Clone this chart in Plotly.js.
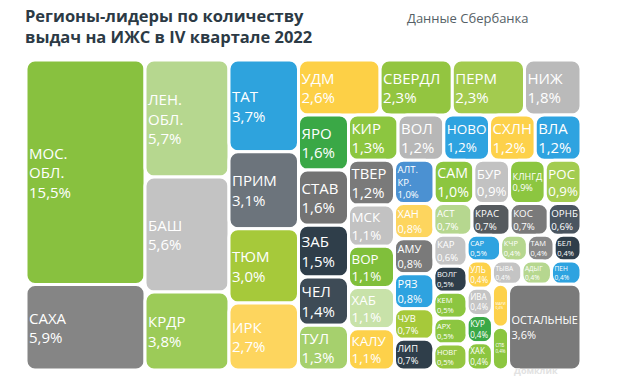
<!DOCTYPE html>
<html><head><meta charset="utf-8">
<script src="https://cdn.plot.ly/plotly-3.0.1.min.js"></script>
<style>html,body{margin:0;padding:0;background:#fff}#chart{width:618px;height:379px}</style>
</head><body><div id="chart"></div>
<script>
const regions = ["МОС.<br>ОБЛ.","САХА","ЛЕН.<br>ОБЛ.","БАШ","КРДР","ТАТ","ПРИМ","ТЮМ","ИРК","УДМ","СВЕРДЛ","ПЕРМ","НИЖ","ЯРО","СТАВ","ЗАБ","ЧЕЛ","ТУЛ","КИР","ВОЛ","НОВО","СХЛН","ВЛА","ТВЕР","МСК","ВОР","ХАБ","КАЛУ","АЛТ.<br>КР.","САМ","БУР","КЛНГД","РОС","ХАН","АМУ","РЯЗ","ЧУВ","ЛИП","АСТ","КРАС","КОС","ОРНБ","КАР","ВОЛГ","КЕМ","АРХ","НОВГ","САР","КЧР","ТАМ","БЕЛ","УЛЬ","ИВА","КУР","ХАК","ТЫВА","АДЫГ","ПЕН","МАРИ","СПБ","ОСТАЛЬНЫЕ"];
const shares = [15.5,5.9,5.7,5.6,3.8,3.7,3.1,3.0,2.7,2.6,2.3,2.3,1.8,1.6,1.6,1.5,1.4,1.3,1.3,1.2,1.2,1.2,1.2,1.2,1.1,1.1,1.1,1.1,1.0,1.0,0.9,0.9,0.9,0.8,0.8,0.8,0.7,0.7,0.7,0.7,0.7,0.6,0.6,0.5,0.5,0.5,0.5,0.5,0.4,0.4,0.4,0.4,0.4,0.4,0.4,0.4,0.4,0.4,0.4,0.4,3.6];
const colors = ["#88c13f","#858585","#b6d78f","#c3c3c3","#9ccb58","#2ea3dd","#6c747c","#a6c93a","#fdd55e","#fdd046","#93c540","#a3cb4f","#bababa","#3aa846","#737373","#2f3e4a","#3e4b56","#a6d06d","#8cc640","#b7b7b7","#2ea3e0","#fdd14a","#2ea3e0","#7a7a7a","#c2c2c2","#80bf3b","#c8e2a9","#fdd14a","#4b91d2","#8cc640","#c2c2c2","#8cc640","#a3cc50","#fdd55e","#7a7a7a","#2ea3e0","#a6c93a","#2f3e4a","#b6d78f","#555a5e","#7a7a7a","#4a5560","#c4c4c4","#2f3e4a","#8cc640","#8cc640","#95c640","#2ea3e0","#b6d78f","#888888","#2f3e4a","#fdd14a","#c4c4c4","#3aa846","#8cc640","#c4c4c4","#b6d78f","#2ea3e0","#fdd14a","#8cc640","#7a7a7a"];
const shareText = shares.map(v => v.toFixed(1).replace('.', ',') + '%');

const trace = {
  type: 'treemap',
  ids: regions.map((r,i)=>'id'+i),
  labels: regions,
  parents: regions.map(()=>''),
  values: shares,
  text: shareText,
  texttemplate: '%{label}<br>%{text}',
  textposition: 'middle left',
  textfont: {family: 'Open Sans, sans-serif', size: 15, color: '#ffffff'},
  marker: {colors: colors, cornerradius: 9, line: {width: 3, color: '#ffffff'}, pad: {t: 9, l: 9, r: 9, b: 9}},
  tiling: {packing: 'squarify', squarifyratio: 1, pad: 0},
  pathbar: {visible: false},
  sort: false,
  hoverinfo: 'label+text'
};

const layout = {
  width: 618, height: 379,
  margin: {l: 17, r: 28, t: 51, b: 0},
  paper_bgcolor: '#ffffff',
  showlegend: false,
  annotations: [
    {text: '<b>Регионы-лидеры по количеству<br>выдач на ИЖС в IV квартале 2022</b>', xref: 'paper', yref: 'paper', x: 0, y: 1, xanchor: 'left', yanchor: 'bottom', yshift: 1, xshift: 6, align: 'left', showarrow: false, font: {family: 'Open Sans, sans-serif', size: 16.5, color: '#2c3a45'}},
    {text: 'Данные Сбербанка', xref: 'paper', yref: 'paper', x: 0.677, y: 1, xanchor: 'left', yanchor: 'bottom', yshift: 22, showarrow: false, font: {family: 'Open Sans, sans-serif', size: 13, color: '#555f66'}},
    {text: '<b>Домклик</b>', xref: 'paper', yref: 'paper', x: 0.948, y: 0, xanchor: 'right', yanchor: 'bottom', yshift: 0, showarrow: false, font: {family: 'Open Sans, sans-serif', size: 9, color: '#e2e2e2'}}
  ]
};
Plotly.newPlot('chart', [trace], layout, {displayModeBar: false, staticPlot: true});
</script></body></html>
